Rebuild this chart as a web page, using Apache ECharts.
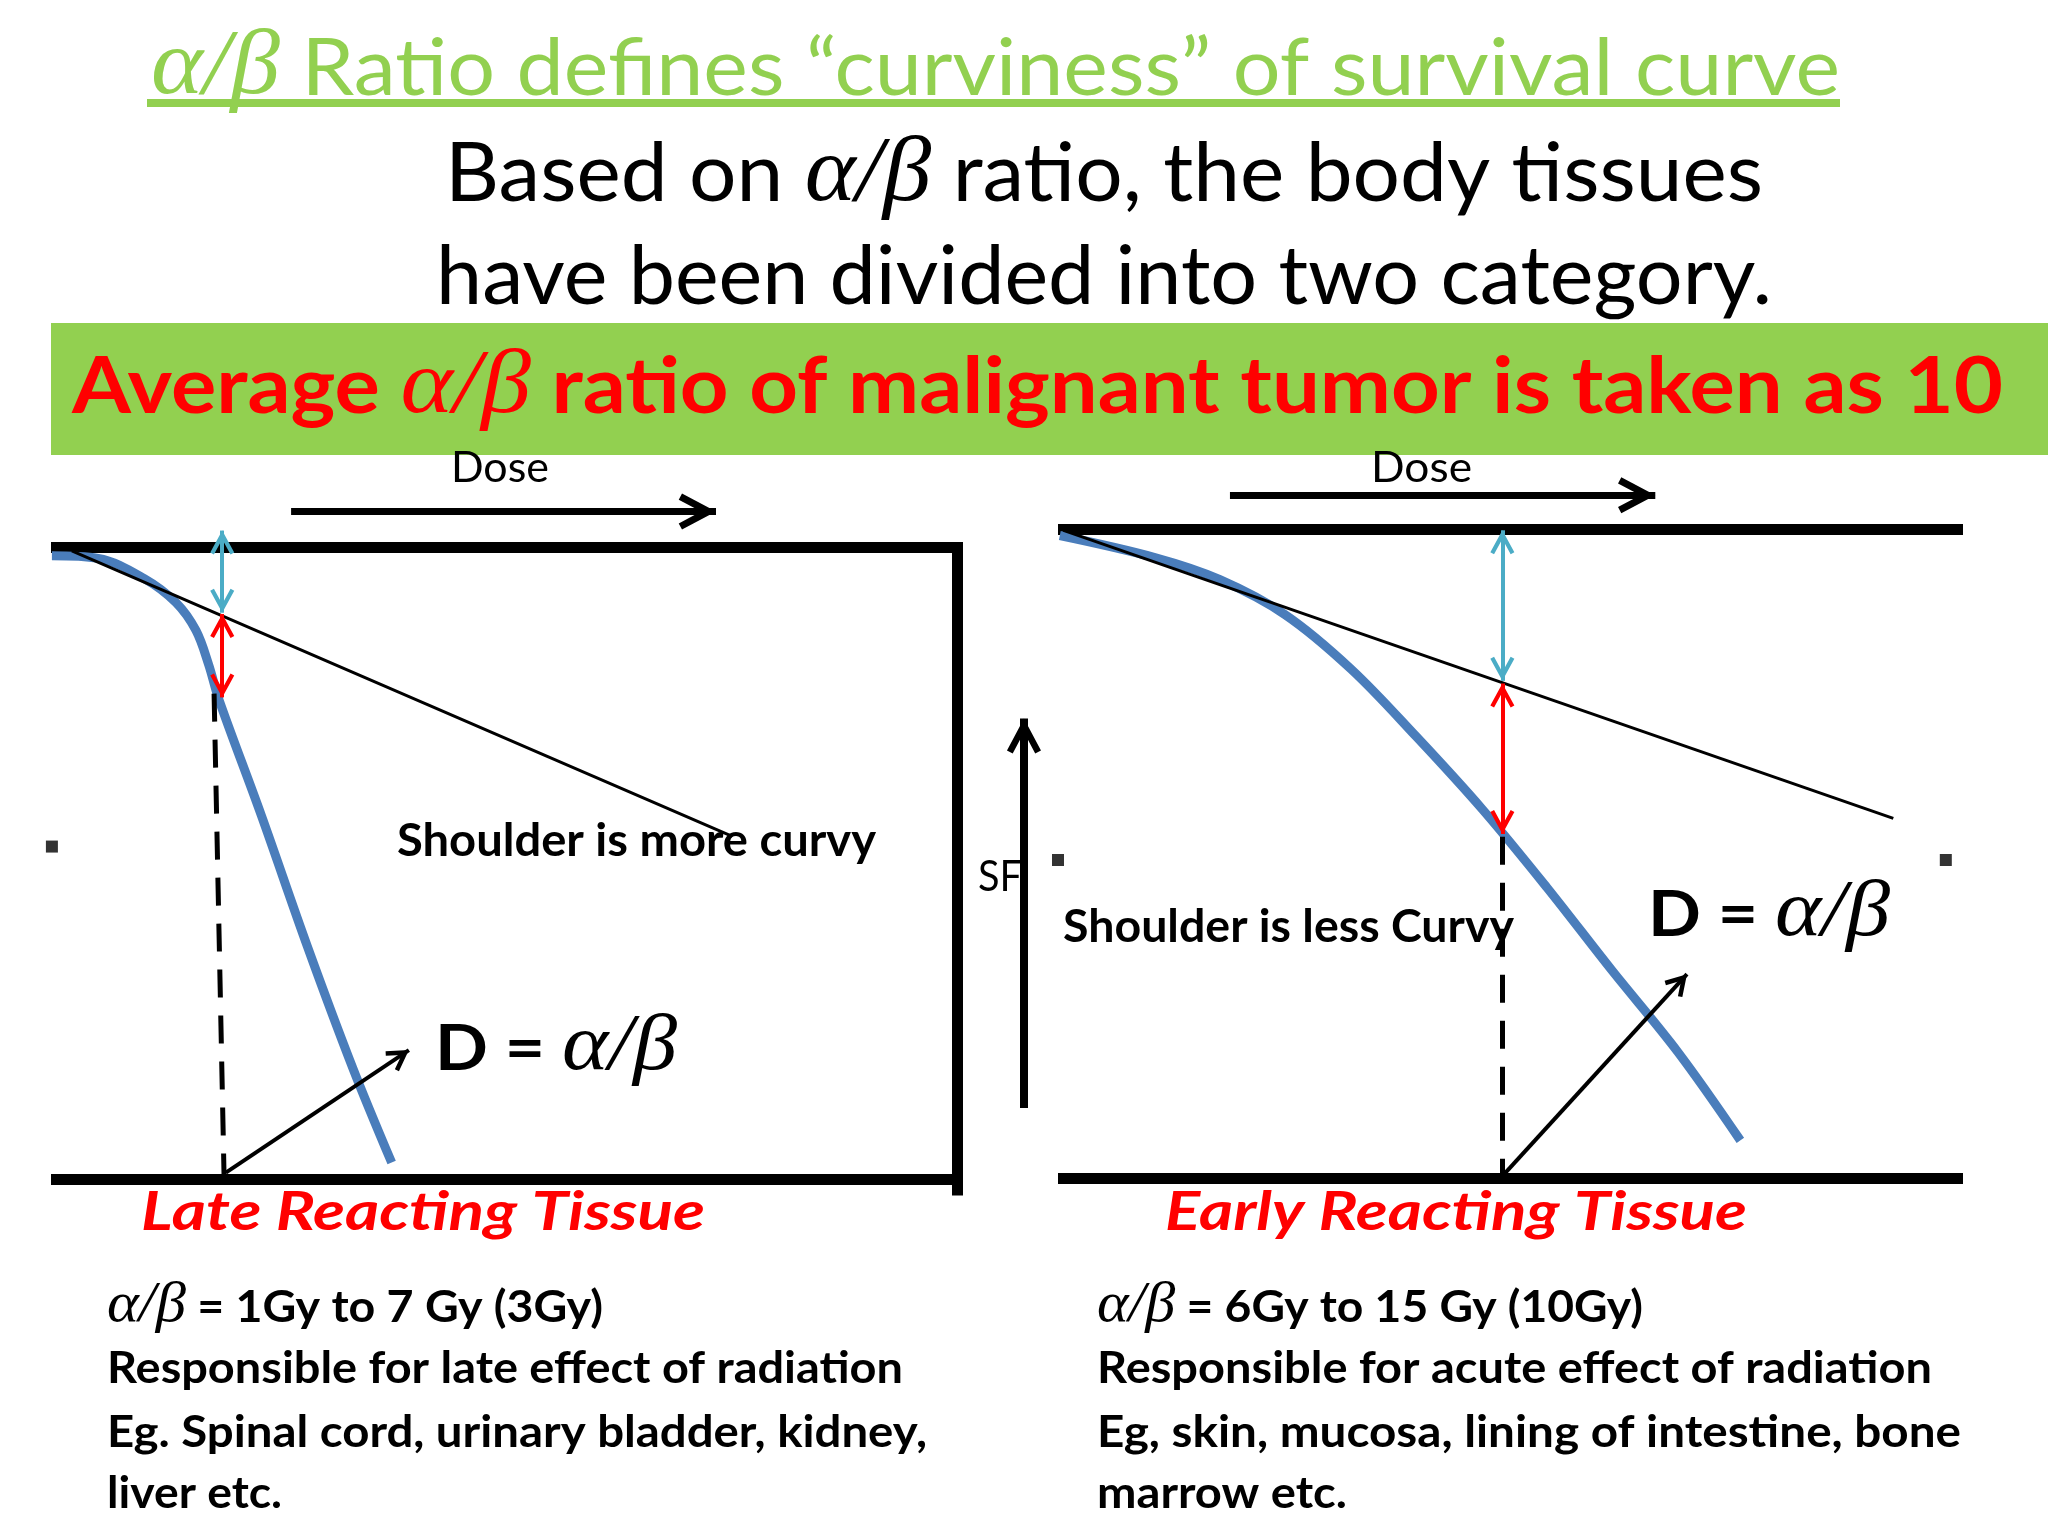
<!DOCTYPE html>
<html><head><meta charset="utf-8">
<script src="https://cdn.jsdelivr.net/npm/echarts@6/dist/echarts.min.js"></script>
<style>html,body{margin:0;padding:0;background:#fff}#c{width:2048px;height:1536px}</style>
</head><body><div id="c"></div>
<script>
// ---------- DATA (schematic units: dose along x, log survival fraction along y) ----------
// Late reacting tissue (left panel)
const lateDose  = [0.01, 0.52, 1.03, 1.38, 1.60, 1.74, 1.85, 2.32, 2.83, 3.33, 3.76];
const lateLogSF = [-0.07, -0.09, -0.25, -0.44, -0.66, -0.93, -1.20, -2.12, -3.16, -4.12, -4.87];
const lateTangentDose  = [0.23, 7.52];
const lateTangentLogSF = [-0.03, -2.29];
const lateMarkDose = 1.89;                 // dose where α-kill = β-kill
const lateCyanLogSF = [0.13, -0.52];       // cyan double arrow
const lateRedLogSF  = [-0.53, -1.19];      // red double arrow
const lateDashDose  = [1.80, 1.91];
const lateDashLogSF = [-1.16, -4.97];
const latePointerDose  = [1.93, 3.95];
const latePointerLogSF = [-4.95, -3.98];
const lateDoseArrowDose = [2.65, 7.34];
const lateDoseArrowLogSF = 0.28;
const lateDot = [[0.01, -2.37]];

// Early reacting tissue (right panel)
const earlyDose  = [0.02, 1.07, 1.79, 2.51, 3.24, 3.96, 4.69, 5.40, 6.12, 6.85, 7.54];
const earlyLogSF = [-0.05, -0.22, -0.39, -0.66, -1.08, -1.60, -2.16, -2.76, -3.40, -4.03, -4.71];
const earlyTangentDose  = [0.06, 9.23];
const earlyTangentLogSF = [-0.01, -2.23];
const earlyMarkDose = 4.91;
const earlyCyanLogSF = [-0.01, -1.17];
const earlyRedLogSF  = [-1.19, -2.35];
const earlyDashDose  = [4.91, 4.91];
const earlyDashLogSF = [-2.37, -4.97];
const earlyPointerDose  = [4.93, 6.95];
const earlyPointerLogSF = [-4.97, -3.43];
const earlyDoseArrowDose = [1.90, 6.60];
const earlyDoseArrowLogSF = 0.26;
const earlyDots = [[0, -2.55], [9.81, -2.55]];
const sfArrowDose = -0.376;
const sfArrowLogSF = [-4.46, -1.46];

// Frame extents
const frameDose = [0, 10];
const frameLogSF = [0, -5];
const lateRightEdgeLogSF = [0.04, -5.13];

// ---------- STYLE ----------
const GREEN = '#92d050', RED = '#ff0000', BLUE = '#4a7dbb', CYAN = '#4bacc6', BLACK = '#000';
const SANS = 'Lato, "Open Sans", sans-serif';
const SERIF = '"Liberation Serif", "DejaVu Serif", serif';

function chevron(hw, len, t) {
  const L = Math.hypot(hw, len);
  const ox = t * len / L, oy = t * hw / L;
  const tipIn = len + t * L / hw;
  const pts = [[hw, len], [2 * hw, 2 * len], [2 * hw - ox, 2 * len + oy], [hw, tipIn], [ox, 2 * len + oy], [0, 2 * len]];
  let d = 'M' + pts.map(p => p[0].toFixed(2) + ',' + p[1].toFixed(2)).join(' L') + ' Z';
  d += ' M' + hw.toFixed(2) + ',' + (-oy).toFixed(2) + ' L' + (hw + 0.01).toFixed(2) + ',' + (-oy).toFixed(2) + ' Z';
  return { symbol: 'path://' + d, size: [2 * hw, 2 * len + 2 * oy] };
}
const chevSmall = chevron(12, 22, 4.2);
const chevPointer = chevron(12, 20, 4.5);
const chevDose = chevron(18, 34, 7);
const chevSF = chevron(17, 32, 6.5);

function segSeries(gi, coordsList, lineStyle, from, to, z) {
  const sym = [from ? from.symbol : 'none', to ? to.symbol : 'none'];
  const size = [from ? from.size : 1, to ? to.size : 1];
  return {
    type: 'lines', coordinateSystem: 'cartesian2d', xAxisIndex: gi, yAxisIndex: gi,
    data: coordsList.map(c => ({ coords: c })),
    lineStyle: Object.assign({ opacity: 1, curveness: 0 }, lineStyle),
    symbol: sym, symbolSize: size, clip: false, silent: true, z: z || 4, animation: false
  };
}

// ---------- TEXT ----------
const mctx = document.createElement('canvas').getContext('2d');
function fontOf(kind, size) {
  switch (kind) {
    case 'l': return 'normal 400 ' + size + 'px ' + SANS;
    case 'r': return 'normal 400 ' + size + 'px ' + SANS;
    case 'b': return 'normal 700 ' + size + 'px ' + SANS;
    case 'bi': return 'italic 700 ' + size + 'px ' + SANS;
    case 'g': return 'italic 400 ' + size + 'px ' + SERIF;
  }
}
function buildText(spec, out) {
  let total = 0; const parts = [];
  spec.segs.forEach(([t, kind, size]) => {
    const f = fontOf(kind, size);
    mctx.font = f; mctx.textBaseline = 'alphabetic';
    const m = mctx.measureText(t);
    const asc = m.fontBoundingBoxAscent, desc = m.fontBoundingBoxDescent;
    const mid = (asc != null && desc != null) ? (asc - desc) / 2 : size * 0.36;
    parts.push({ t, f, w: m.width, mid: mid - 0.06 * size });
    total += m.width;
  });
  const s = spec.w ? spec.w / total : 1;
  let x = spec.x;
  parts.forEach(p => {
    out.push({
      type: 'text', x: x, y: spec.base - p.mid, scaleX: s, z: 20, silent: true,
      style: { text: p.t, x: 0, y: 0, font: p.f, fill: spec.color || BLACK, align: 'left', verticalAlign: 'middle' }
    });
    x += p.w * s;
  });
}

const texts = [
  { x: 151, base: 95, w: 1689, color: GREEN, segs: [['α/β', 'g', 94], [' Ratio defines “curviness” of survival curve', 'l', 80]] },
  { x: 445, base: 202, w: 1318, segs: [['Based on ', 'r', 81], ['α/β', 'g', 94], [' ratio, the body tissues', 'r', 81]] },
  { x: 436, base: 305, w: 1336, segs: [['have been divided into two category.', 'r', 81]] },
  { x: 72, base: 413, w: 1931, color: RED, segs: [['Average ', 'b', 78], ['α/β', 'g', 92], [' ratio of malignant tumor is taken as 10', 'b', 78]] },
  { x: 451, base: 482, w: 98, segs: [['Dose', 'r', 42]] },
  { x: 1371, base: 482, w: 101, segs: [['Dose', 'r', 42]] },
  { x: 978, base: 891, w: 44, segs: [['SF', 'r', 43]] },
  { x: 397, base: 856, w: 479, segs: [['Shoulder is more curvy', 'b', 46]] },
  { x: 1063, base: 942, w: 451, segs: [['Shoulder is less Curvy', 'b', 46]] },
  { x: 435, base: 1070, w: 242, segs: [['D = ', 'b', 63], ['α/β', 'g', 80]] },
  { x: 1648, base: 936, w: 242, segs: [['D = ', 'b', 63], ['α/β', 'g', 80]] },
  { x: 141, base: 1230, w: 564, color: RED, segs: [['Late Reacting Tissue', 'bi', 54]] },
  { x: 1165, base: 1230, w: 582, color: RED, segs: [['Early Reacting Tissue', 'bi', 54]] },
  { x: 107, base: 1322, w: 496, segs: [['α/β', 'g', 56], [' = 1Gy to 7 Gy (3Gy)', 'b', 43]] },
  { x: 107, base: 1383, w: 796, segs: [['Responsible for late effect of radiation', 'b', 43]] },
  { x: 107, base: 1447, w: 820, segs: [['Eg. Spinal cord, urinary bladder, kidney,', 'b', 43]] },
  { x: 107, base: 1508, w: 175, segs: [['liver etc.', 'b', 43]] },
  { x: 1097, base: 1322, w: 546, segs: [['α/β', 'g', 56], [' = 6Gy to 15 Gy (10Gy)', 'b', 43]] },
  { x: 1097, base: 1383, w: 835, segs: [['Responsible for acute effect of radiation', 'b', 43]] },
  { x: 1097, base: 1447, w: 864, segs: [['Eg, skin, mucosa, lining of intestine, bone', 'b', 43]] },
  { x: 1097, base: 1508, w: 250, segs: [['marrow etc.', 'b', 43]] }
];

const graphics = [
  { type: 'rect', shape: { x: 51, y: 323, width: 1997, height: 132 }, style: { fill: GREEN }, z: 0, silent: true },
  { type: 'rect', shape: { x: 147, y: 99, width: 1693, height: 8 }, style: { fill: GREEN }, z: 0, silent: true }
];
texts.forEach(t => buildText(t, graphics));

// ---------- SERIES ----------
const lateCurve = lateDose.map((d, i) => [d, lateLogSF[i]]);
const earlyCurve = earlyDose.map((d, i) => [d, earlyLogSF[i]]);
const pair = (xs, ys) => [[xs[0], ys[0]], [xs[1], ys[1]]];

const series = [
  // frames
  segSeries(0, [
    [[frameDose[0], frameLogSF[0]], [frameDose[1], frameLogSF[0]]],
    [[frameDose[0], frameLogSF[1]], [frameDose[1], frameLogSF[1]]],
    [[frameDose[1], lateRightEdgeLogSF[0]], [frameDose[1], lateRightEdgeLogSF[1]]]
  ], { color: BLACK, width: 11, cap: 'butt' }, null, null, 2),
  segSeries(1, [
    [[frameDose[0], frameLogSF[0]], [frameDose[1], frameLogSF[0]]],
    [[frameDose[0], frameLogSF[1]], [frameDose[1], frameLogSF[1]]]
  ], { color: BLACK, width: 11, cap: 'butt' }, null, null, 2),
  // survival curves
  { type: 'line', xAxisIndex: 0, yAxisIndex: 0, data: lateCurve, smooth: 0.35, showSymbol: false, symbol: 'none',
    lineStyle: { color: BLUE, width: 9, cap: 'butt' }, z: 3, silent: true, clip: false },
  { type: 'line', xAxisIndex: 1, yAxisIndex: 1, data: earlyCurve, smooth: 0.35, showSymbol: false, symbol: 'none',
    lineStyle: { color: BLUE, width: 9, cap: 'butt' }, z: 3, silent: true, clip: false },
  // tangents (linear α component)
  segSeries(0, [pair(lateTangentDose, lateTangentLogSF)], { color: BLACK, width: 3 }),
  segSeries(1, [pair(earlyTangentDose, earlyTangentLogSF)], { color: BLACK, width: 3 }),
  // dashed markers
  segSeries(0, [pair(lateDashDose, lateDashLogSF)], { color: BLACK, width: 5, type: [28, 18] }),
  segSeries(1, [pair(earlyDashDose, earlyDashLogSF)], { color: BLACK, width: 5, type: [28, 18] }),
  // cyan & red double arrows
  segSeries(0, [[[lateMarkDose, lateCyanLogSF[0]], [lateMarkDose, lateCyanLogSF[1]]]], { color: CYAN, width: 4 }, chevSmall, chevSmall, 5),
  segSeries(1, [[[earlyMarkDose, earlyCyanLogSF[0]], [earlyMarkDose, earlyCyanLogSF[1]]]], { color: CYAN, width: 4 }, chevSmall, chevSmall, 5),
  segSeries(0, [[[lateMarkDose, lateRedLogSF[0]], [lateMarkDose, lateRedLogSF[1]]]], { color: RED, width: 4 }, chevSmall, chevSmall, 5),
  segSeries(1, [[[earlyMarkDose, earlyRedLogSF[0]], [earlyMarkDose, earlyRedLogSF[1]]]], { color: RED, width: 4 }, chevSmall, chevSmall, 5),
  // pointer arrows to D = α/β
  segSeries(0, [pair(latePointerDose, latePointerLogSF)], { color: BLACK, width: 4 }, null, chevPointer, 5),
  segSeries(1, [pair(earlyPointerDose, earlyPointerLogSF)], { color: BLACK, width: 4 }, null, chevPointer, 5),
  // Dose arrows
  segSeries(0, [[[lateDoseArrowDose[0], lateDoseArrowLogSF], [lateDoseArrowDose[1], lateDoseArrowLogSF]]], { color: BLACK, width: 7 }, null, chevDose, 5),
  segSeries(1, [[[earlyDoseArrowDose[0], earlyDoseArrowLogSF], [earlyDoseArrowDose[1], earlyDoseArrowLogSF]]], { color: BLACK, width: 7 }, null, chevDose, 5),
  // SF arrow
  segSeries(1, [[[sfArrowDose, sfArrowLogSF[0]], [sfArrowDose, sfArrowLogSF[1]]]], { color: BLACK, width: 8 }, null, chevSF, 5),
  // small dots
  { type: 'scatter', xAxisIndex: 0, yAxisIndex: 0, data: lateDot, symbol: 'rect', symbolSize: 12, itemStyle: { color: BLACK }, silent: true, clip: false, z: 5 },
  { type: 'scatter', xAxisIndex: 1, yAxisIndex: 1, data: earlyDots, symbol: 'rect', symbolSize: 12, itemStyle: { color: BLACK }, silent: true, clip: false, z: 5 }
];

const option = {
  animation: false,
  backgroundColor: '#ffffff',
  grid: [
    { left: 51, top: 420.6, width: 906, height: 758.4, show: false, containLabel: false, outerBoundsMode: 'none' },
    { left: 1012.75, top: 399.2, width: 950.25, height: 778.8, show: false, containLabel: false, outerBoundsMode: 'none' }
  ],
  xAxis: [
    { type: 'value', gridIndex: 0, min: 0, max: 10, show: false },
    { type: 'value', gridIndex: 1, min: -0.5, max: 10, show: false }
  ],
  yAxis: [
    { type: 'value', gridIndex: 0, min: -5, max: 1, show: false },
    { type: 'value', gridIndex: 1, min: -5, max: 1, show: false }
  ],
  tooltip: { show: false },
  graphic: graphics,
  series: series
};

const chart = echarts.init(document.getElementById('c'), null, { renderer: 'canvas', width: 2048, height: 1536 });
chart.setOption(option);
</script></body></html>
